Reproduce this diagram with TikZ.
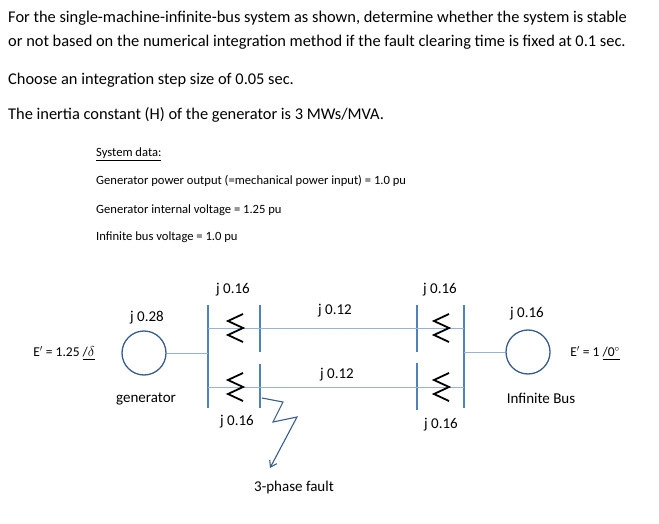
\documentclass[tikz,border=0pt]{standalone}
\usepackage{fontspec}
\setmainfont{Carlito}
\usetikzlibrary{arrows.meta}
\begin{document}
\definecolor{busb}{RGB}{79,129,189}
\definecolor{linb}{RGB}{149,179,215}
\definecolor{circb}{RGB}{56,93,138}
\begin{tikzpicture}[x=1pt,y=-1pt,
  txt/.style={anchor=west,inner sep=0pt,font=\fontsize{16.4}{18}\selectfont},
  sd/.style={anchor=west,inner sep=0pt,font=\fontsize{12.6}{14}\selectfont},
  lbl/.style={inner sep=0pt,font=\fontsize{15}{17}\selectfont},
  bus/.style={busb,line width=2pt},
  ln/.style={linb,line width=1pt},
  mach/.style={circle,draw=circb,line width=1.3pt,minimum size=44pt,inner sep=0pt},
  zz/.style={black,line width=1.8pt}]
\useasboundingbox (0,0) rectangle (659,524);
\node[txt] (t1) at (8,18) {For the single-machine-infinite-bus system as shown, determine whether the system is stable};
\node[txt] (t2) at (8,42) {or not based on the numerical integration method if the fault clearing time is fixed at 0.1 sec.};
\node[txt] (t3) at (8,80) {Choose an integration step size of 0.05 sec.};
\node[txt] (t4) at (8,115) {The inertia constant (H) of the generator is 3 MWs/MVA.};
\node[sd] (s1) at (96,154) {\underline{System data:}};
\node[sd] (s2) at (96,181) {Generator power output (=mechanical power input) = 1.0 pu};
\node[sd] (s3) at (96,210) {Generator internal voltage = 1.25 pu};
\node[sd] (s4) at (96,237) {Infinite bus voltage = 1.0 pu};
% machines
\node[mach] (gen) at (144,353) {};
\node[mach] (inf) at (528,352) {};
% buses
\coordinate (b1t) at (208,305); \coordinate (b1b) at (208,408);
\coordinate (b2t) at (260,305); \coordinate (b2m) at (260,352);
\coordinate (b3t) at (260,364); \coordinate (b3b) at (260,408);
\coordinate (b4t) at (417,305); \coordinate (b4m) at (417,352);
\coordinate (b5t) at (417,363); \coordinate (b5b) at (417,410);
\coordinate (b6t) at (464,305); \coordinate (b6b) at (464,408);
\draw[bus] (b1t) -- (b1b);
\draw[bus] (b2t) -- (b2m);
\draw[bus] (b3t) -- (b3b);
\draw[bus] (b4t) -- (b4m);
\draw[bus] (b5t) -- (b5b);
\draw[bus] (b6t) -- (b6b);
% lines
\coordinate (g1) at (208,353);
\coordinate (g2) at (464,352);
\draw[ln] (gen.east) -- (g1);
\draw[ln] (g2) -- (inf.west);
\coordinate (u1) at (208,328); \coordinate (u2) at (464,328);
\coordinate (l1) at (208,387); \coordinate (l2) at (464,387);
\draw[ln] (u1) -- (u2);
\draw[ln] (l1) -- (l2);
% transformer zigzags
\foreach \cx/\cy in {235/314, 235/373, 441/314, 441/373}{
  \draw[zz,line join=miter,miter limit=3] (\cx+8,\cy) -- (\cx-7,\cy+7) -- (\cx+8,\cy+14) -- (\cx-7,\cy+21) -- (\cx+8,\cy+28);
}
% fault
\coordinate (f0) at (262,398);
\coordinate (f1) at (270,468);
\draw[circb,line width=1.1pt,-{Straight Barb[length=6pt,width=8pt]}] (f0) -- (283,402) -- (273,422) -- (297,417) -- (f1);
% labels
\node[lbl] (la) at (233,290) {j 0.16};
\node[lbl] (lb) at (147,318) {j 0.28};
\node[lbl] (lc) at (335,311) {j 0.12};
\node[lbl] (ld) at (337,375) {j 0.12};
\node[lbl] (le) at (237,422) {j 0.16};
\node[lbl] (lf) at (440,290) {j 0.16};
\node[lbl] (lg) at (527,314) {j 0.16};
\node[lbl] (lh) at (441,425) {j 0.16};
\node[lbl,font=\fontsize{13.5}{15}\selectfont] (le1) at (64,353) {E$'$ = 1.25 \underline{/$\delta$}};
\node[lbl,font=\fontsize{13.5}{15}\selectfont] (le2) at (595,353) {E$'$ = 1 \underline{/0$^\circ$}};
\node[lbl] (lgen) at (146,399) {generator};
\node[lbl] (linf) at (541,398) {Infinite Bus};
\node[lbl] (lfault) at (294,487) {3-phase fault};
\end{tikzpicture}
\end{document}
